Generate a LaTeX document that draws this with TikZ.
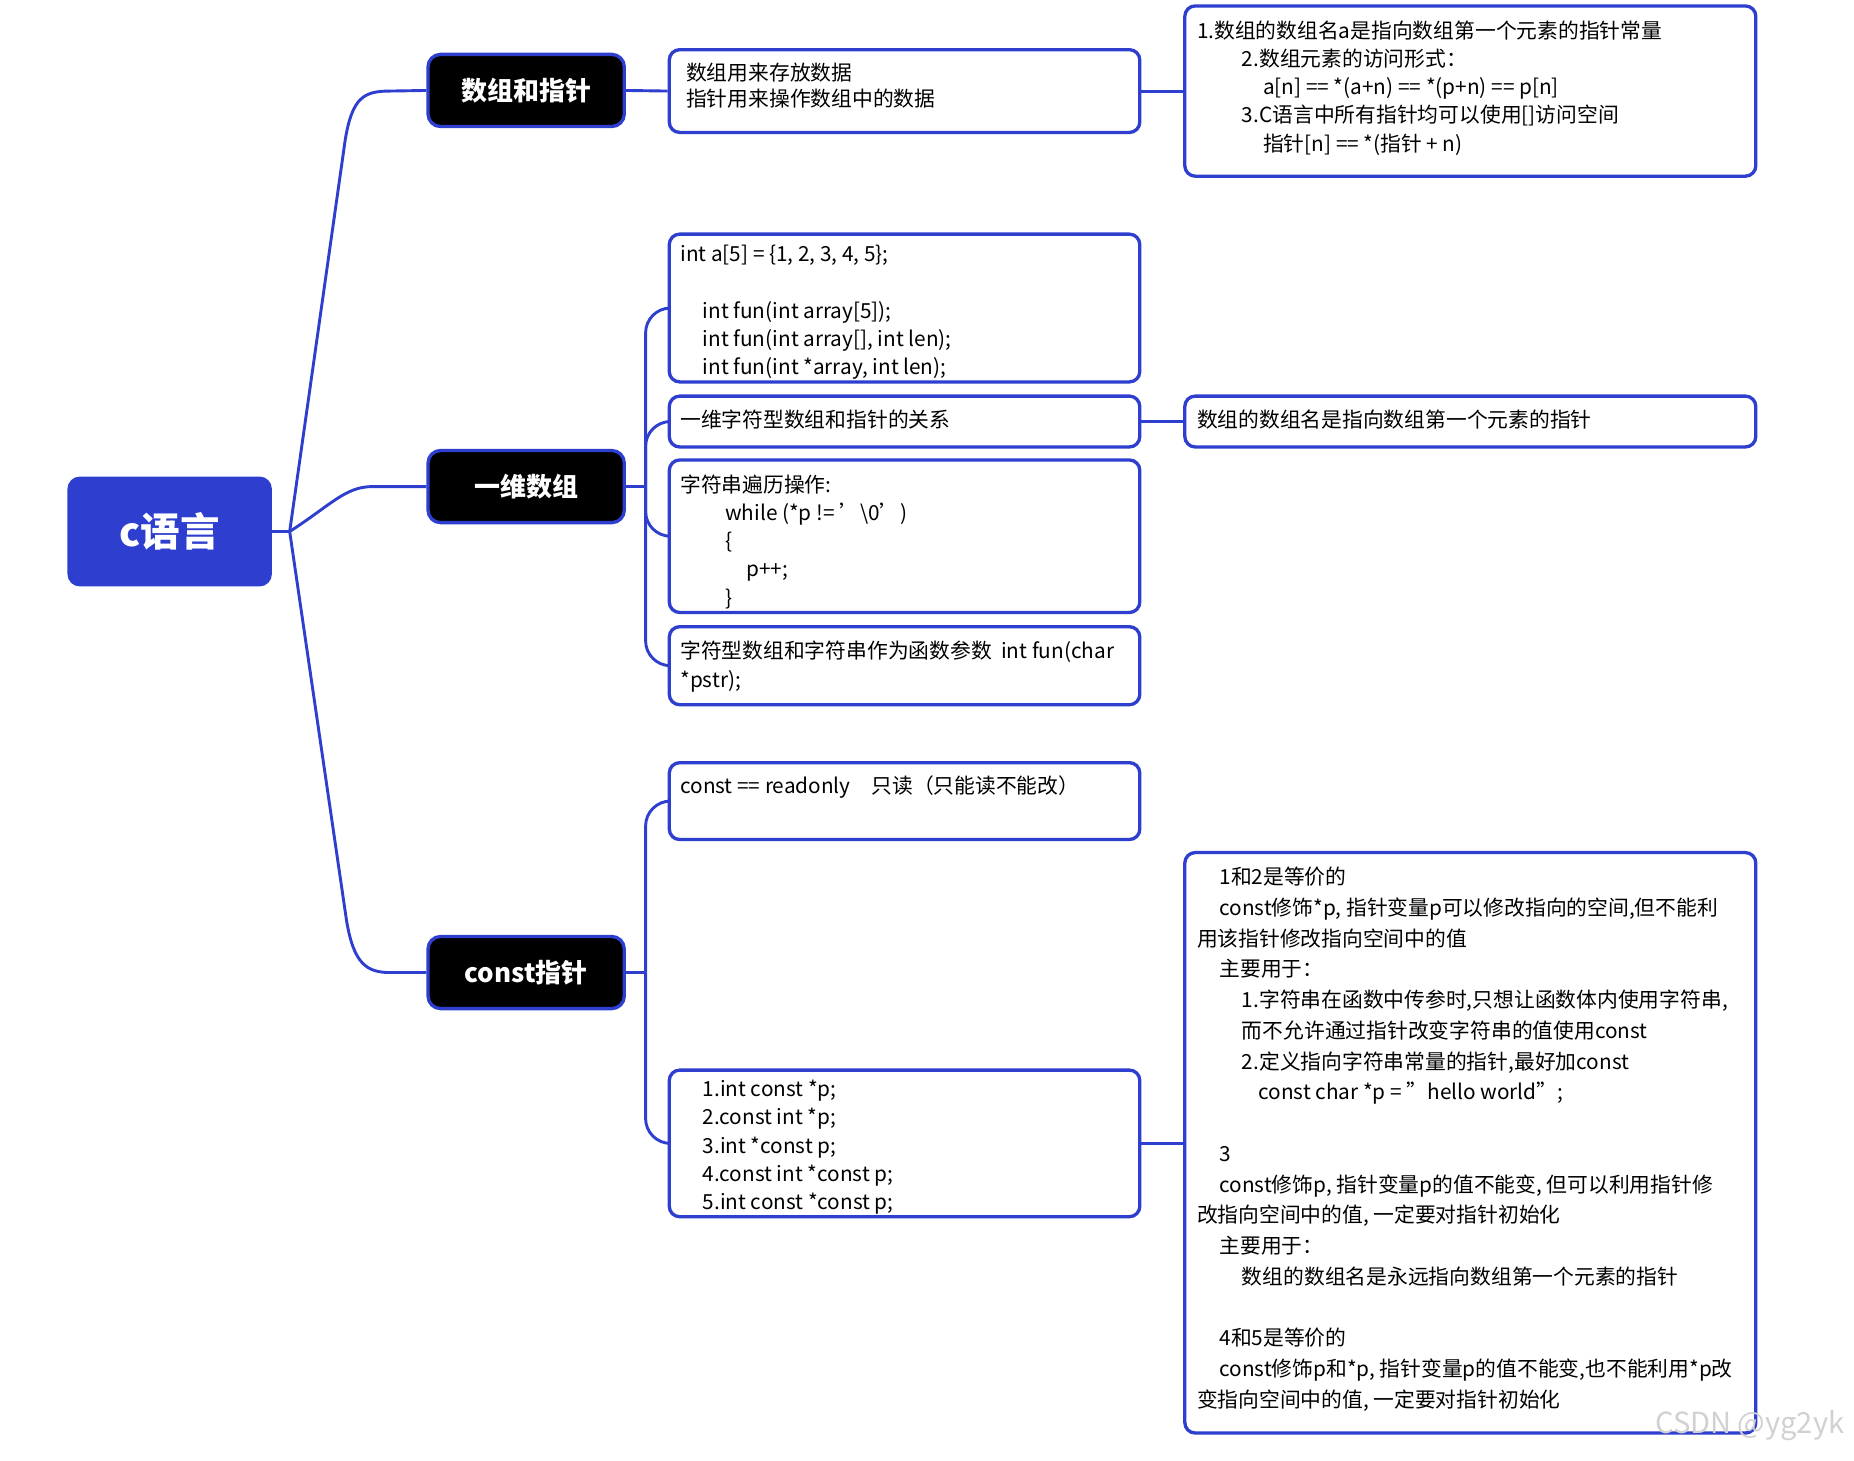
\documentclass[tikz,border=0pt]{standalone}
\usepackage{fontspec}
\setmainfont{Noto Sans CJK SC}
\begin{document}
\begin{tikzpicture}[x=0.02cm,y=-0.02cm,
  conn/.style={draw=myblue,line width=1.4pt},
  box/.style={draw=myblue,line width=1.6pt,rounded corners=5pt,minimum width=7.96cm,inner sep=0pt},
  wbox/.style={box,minimum width=9.66cm},
  mainnode/.style={draw=myblue,line width=1.6pt,fill=black,text=white,rounded corners=6pt,minimum width=3.32cm,minimum height=1.22cm,font=\fontsize{12.5}{14}\selectfont\bfseries},
  txt/.style={anchor=north west,inner sep=0pt,align=left,font=\fontsize{10}{12.6}\selectfont},
  txtw/.style={txt,font=\fontsize{10}{14.8}\selectfont}]
\definecolor{myblue}{HTML}{2E3FD0}
\useasboundingbox (0,0) rectangle (1568,1235);
\node[fill=myblue,rounded corners=6pt,minimum width=3.46cm,minimum height=1.86cm,text=white,font=\fontsize{19}{22}\selectfont\bfseries] (root) at (143.5,449.5) {c语言};
\node[mainnode] (n1) at (445,76.5) {数组和指针};
\node[mainnode] (n2) at (445,411.5) {一维数组};
\node[mainnode] (n3) at (445,822.5) {const指针};
\node[box,minimum height=1.40cm] (A1) at (765,77) {};
\node[wbox,minimum height=2.88cm] (A2) at (1243.5,77) {};
\node[box,minimum height=2.5cm] (B1) at (765,260.5) {};
\node[box,minimum height=0.86cm] (B2) at (765,356.5) {};
\node[wbox,minimum height=0.86cm] (B2r) at (1243.5,356.5) {};
\node[box,minimum height=2.58cm] (B3) at (765,453.5) {};
\node[box,minimum height=1.32cm] (B4) at (765,563) {};
\node[box,minimum height=1.3cm] (C1) at (765,677.5) {};
\node[box,minimum height=2.48cm] (C2) at (765,967) {};
\node[wbox,minimum height=9.82cm] (C3) at (1243.5,966.5) {};
\node[txt] (tA1) at (580,53) {数组用来存放数据\\指针用来操作数组中的数据};
\node[txt] (tA2) at (1012,17) {1.数组的数组名a是指向数组第一个元素的指针常量\\[1pt]
\hspace*{0.76cm}2.数组元素的访问形式：\\[1pt]
\hspace*{1.12cm}a[n] == *(a+n) == *(p+n) == p[n]\\[1pt]
\hspace*{0.76cm}3.C语言中所有指针均可以使用[]访问空间\\[1pt]
\hspace*{1.12cm}指针[n] == *(指针 + n)};
\node[txt] (tB1) at (575,207) {int a[5] = \{1, 2, 3, 4, 5\};\\[1pt] \\[1pt]
\hspace*{0.38cm}int fun(int array[5]);\\[1pt]
\hspace*{0.38cm}int fun(int array[], int len);\\[1pt]
\hspace*{0.38cm}int fun(int *array, int len);};
\node[txt] (tB2) at (575,346) {一维字符型数组和指针的关系};
\node[txt] (tB2r) at (1012,346) {数组的数组名是指向数组第一个元素的指针};
\node[txt] (tB3) at (575,401) {字符串遍历操作:\\[1pt]
\hspace*{0.76cm}while (*p != '\textbackslash 0')\\[1pt]
\hspace*{0.76cm}\{\\[1pt]
\hspace*{1.12cm}p++;\\[1pt]
\hspace*{0.76cm}\}};
\node[txt] (tB4) at (575,542) {字符型数组和字符串作为函数参数\ \ int fun(char\\[1pt]*pstr);};
\node[txt] (tC1) at (575,656) {const == readonly\quad 只读（只能读不能改）};
\node[txt] (tC2) at (575,913) {\hspace*{0.38cm}1.int const *p;\\[1pt]
\hspace*{0.38cm}2.const int *p;\\[1pt]
\hspace*{0.38cm}3.int *const p;\\[1pt]
\hspace*{0.38cm}4.const int *const p;\\[1pt]
\hspace*{0.38cm}5.int const *const p;};
\node[txtw] (tC3) at (1012,733) {\hspace*{0.38cm}1和2是等价的\\
\hspace*{0.38cm}const修饰*p, 指针变量p可以修改指向的空间,但不能利\\
用该指针修改指向空间中的值\\
\hspace*{0.38cm}主要用于：\\
\hspace*{0.76cm}1.字符串在函数中传参时,只想让函数体内使用字符串,\\
\hspace*{0.76cm}而不允许通过指针改变字符串的值使用const\\
\hspace*{0.76cm}2.定义指向字符串常量的指针,最好加const\\
\hspace*{1.04cm}const char *p = "hello world";\\
\\
\hspace*{0.38cm}3\\
\hspace*{0.38cm}const修饰p, 指针变量p的值不能变, 但可以利用指针修\\
改指向空间中的值, 一定要对指针初始化\\
\hspace*{0.38cm}主要用于：\\
\hspace*{0.76cm}数组的数组名是永远指向数组第一个元素的指针\\
\\
\hspace*{0.38cm}4和5是等价的\\
\hspace*{0.38cm}const修饰p和*p, 指针变量p的值不能变,也不能利用*p改\\
变指向空间中的值, 一定要对指针初始化};
\node[anchor=south east,text=black!18,font=\fontsize{14}{16}\selectfont] (wm) at (1566,1225) {CSDN @yg2yk};
\coordinate (hub) at (245,449.5);
\draw[conn] (root.east) -- (hub);
\draw[conn] (hub) -- (292,118) .. controls (298,82) and (308,77) .. (330,77) -- (n1.west);
\draw[conn] (hub) .. controls (280,427) and (292,411.5) .. (315,411.5) -- (n2.west);
\draw[conn] (hub) -- (293,778) .. controls (299,815) and (310,822.5) .. (330,822.5) -- (n3.west);
\draw[conn] (n1.east) -- (A1.west);
\draw[conn] (A1.east) -- (A2.west);
\draw[conn] (B2.east) -- (B2r.west);
\draw[conn] (C2.east) -- (C3.west|-C2.east);
\draw[conn] (n2.east) -- (546,411.5);
\foreach \b in {B1,B2,B3,B4} \draw[conn,rounded corners=12pt] (546,411.5) |- (\b.west);
\draw[conn] (n3.east) -- (546,822.5);
\foreach \b in {C1,C2} \draw[conn,rounded corners=12pt] (546,822.5) |- (\b.west);
\end{tikzpicture}
\end{document}
